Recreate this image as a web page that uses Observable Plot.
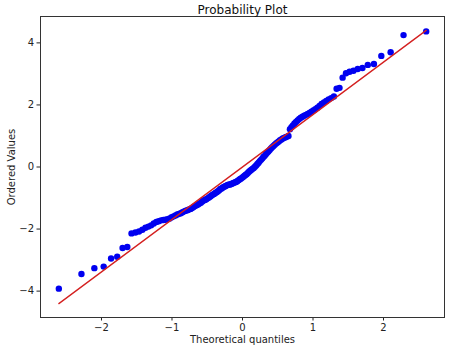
<!DOCTYPE html>
<html><head><meta charset="utf-8">
<script src="https://cdn.jsdelivr.net/npm/d3@7"></script>
<script src="https://cdn.jsdelivr.net/npm/@observablehq/plot@0.6"></script>
<style>body{margin:0;background:#fff} svg{font-family:"DejaVu Sans",sans-serif}</style>
</head><body><div id="chart"></div>
<script>
const quantiles = [-2.605,-2.284,-2.101,-1.969,-1.864,-1.777,-1.701,-1.634,-1.574,-1.519,-1.468,-1.420,-1.376,-1.335,-1.296,-1.258,-1.222,-1.188,-1.155,-1.122,-1.092,-1.062,-1.033,-1.005,-0.977,-0.951,-0.925,-0.900,-0.875,-0.851,-0.827,-0.804,-0.781,-0.759,-0.737,-0.715,-0.694,-0.673,-0.652,-0.631,-0.611,-0.591,-0.571,-0.552,-0.533,-0.514,-0.495,-0.476,-0.457,-0.439,-0.421,-0.403,-0.385,-0.367,-0.349,-0.331,-0.314,-0.296,-0.279,-0.262,-0.245,-0.228,-0.211,-0.194,-0.176,-0.159,-0.142,-0.126,-0.109,-0.092,-0.075,-0.058,-0.042,-0.025,-0.008,0.008,0.025,0.042,0.058,0.075,0.092,0.109,0.126,0.142,0.159,0.176,0.194,0.211,0.228,0.245,0.262,0.279,0.296,0.314,0.331,0.349,0.367,0.385,0.403,0.421,0.439,0.457,0.476,0.495,0.514,0.533,0.552,0.571,0.591,0.611,0.631,0.652,0.673,0.694,0.715,0.737,0.759,0.781,0.804,0.827,0.851,0.875,0.900,0.925,0.951,0.977,1.005,1.033,1.062,1.092,1.122,1.155,1.188,1.222,1.258,1.296,1.335,1.376,1.420,1.468,1.519,1.574,1.634,1.701,1.777,1.864,1.969,2.101,2.284,2.605];
const orderedValues = [-3.92,-3.45,-3.26,-3.21,-2.95,-2.89,-2.61,-2.58,-2.14,-2.11,-2.08,-2.02,-1.96,-1.92,-1.88,-1.82,-1.77,-1.75,-1.72,-1.71,-1.70,-1.68,-1.66,-1.62,-1.59,-1.56,-1.53,-1.51,-1.49,-1.46,-1.43,-1.41,-1.39,-1.37,-1.35,-1.32,-1.29,-1.26,-1.23,-1.21,-1.18,-1.15,-1.11,-1.08,-1.06,-1.04,-1.01,-0.98,-0.95,-0.92,-0.89,-0.87,-0.84,-0.81,-0.78,-0.75,-0.71,-0.69,-0.66,-0.64,-0.62,-0.60,-0.58,-0.57,-0.56,-0.55,-0.53,-0.51,-0.50,-0.48,-0.46,-0.43,-0.40,-0.38,-0.35,-0.32,-0.29,-0.26,-0.23,-0.19,-0.15,-0.12,-0.09,-0.06,-0.03,0.01,0.05,0.10,0.14,0.19,0.23,0.27,0.32,0.36,0.41,0.46,0.50,0.55,0.60,0.64,0.68,0.72,0.76,0.79,0.82,0.86,0.89,0.92,0.94,0.96,0.98,1.00,1.22,1.28,1.34,1.40,1.45,1.50,1.55,1.59,1.62,1.65,1.68,1.71,1.74,1.78,1.82,1.86,1.91,1.97,2.03,2.08,2.13,2.18,2.22,2.27,2.52,2.55,2.88,3.02,3.07,3.10,3.16,3.19,3.29,3.32,3.58,3.70,4.25,4.37];
const fitSlope = 1.69;
const fitIntercept = 0.0;
const xTicks = [-2, -1, 0, 1, 2];
const yTicks = [-4, -2, 0, 2, 4];
const title = "Probability Plot";
const xLabel = "Theoretical quantiles";
const yLabel = "Ordered Values";

const points = quantiles.map((q, i) => ({q, v: orderedValues[i]}));
const fit = d3.extent(quantiles).map(q => ({q, v: fitIntercept + fitSlope * q}));
const fmt = d3.format("d");

const plot = Plot.plot({
  width: 474, height: 351,
  marginLeft: 40, marginRight: 30, marginTop: 16, marginBottom: 34,
  style: {fontFamily: "DejaVu Sans", fontSize: "10px", background: "#fff", color: "#222"},
  x: {domain: [-2.865, 2.865], ticks: xTicks, label: null},
  y: {domain: [-4.85, 4.85], ticks: yTicks, label: null},
  marks: [
    Plot.axisX({ticks: xTicks, tickFormat: fmt, tickSize: 3.5, tickPadding: 3, label: xLabel, labelAnchor: "center", labelArrow: "none", labelOffset: 25}),
    Plot.axisY({ticks: yTicks, tickFormat: fmt, tickSize: 3.5, tickPadding: 3, label: yLabel, labelAnchor: "center", labelArrow: "none", labelOffset: 33}),
    Plot.dot(points, {x: "q", y: "v", r: 3.2, fill: "#0000f0", stroke: "none"}),
    Plot.line(fit, {x: "q", y: "v", stroke: "#d42020", strokeWidth: 1.3}),
    Plot.frame({stroke: "#333", strokeWidth: 1}),
    Plot.text([title], {frameAnchor: "top", lineAnchor: "bottom", dy: -3, fontSize: 12, fill: "#111"})
  ]
});
document.getElementById("chart").appendChild(plot);
</script></body></html>
